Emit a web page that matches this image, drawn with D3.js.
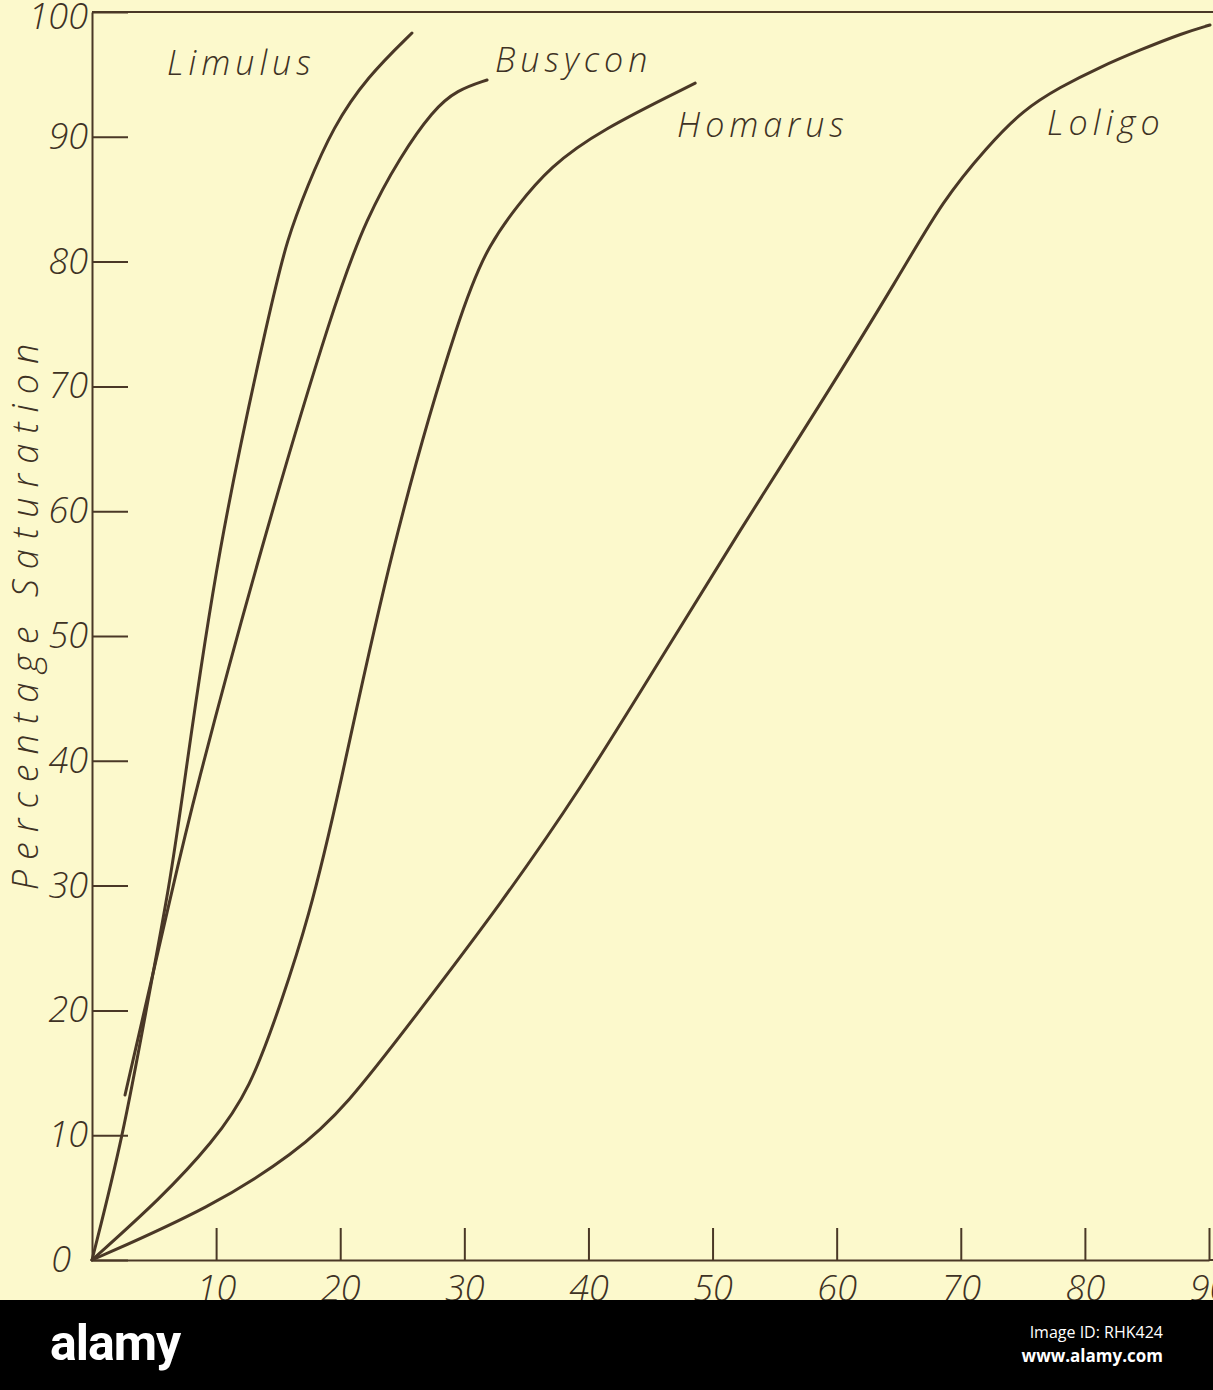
<!DOCTYPE html>
<html lang="en">
<head>
    <meta charset="UTF-8">
    <title>Percentage Saturation</title>
    <style>
        body { margin: 0; background: #fcf9cc; }
        svg { display: block; }
        .tick-label, .curve-label, .axis-title {
            font-family: "Open Sans", "DejaVu Sans", sans-serif;
            font-style: italic;
            font-weight: 300;
            fill: #3e3224;
        }
    </style>
</head>
<body>
    <div id="container"></div>

    <script type="text/javascript" src="https://d3js.org/d3.v7.min.js"></script>
    <script type="text/javascript">
        // Oxygen pressure (x) and percentage saturation (y).
        var limulusX = [0, 2.5, 4.51, 6.28, 7.25, 10.07, 14.5, 15.71, 17.32, 19.42, 22.16, 25.78];
        var limulusY = [0, 9.86, 20.83, 30.21, 36.86, 56.89, 76.92, 81.73, 85.98, 90.79, 94.79, 98.32];

        var busyconX = [2.66, 4.51, 6.28, 8.14, 13.54, 19.58, 22.16, 24.82, 27.48, 29.41, 31.83];
        var busyconY = [13.22, 21.23, 28.85, 36.86, 56.89, 76.92, 83.57, 88.38, 92.15, 93.75, 94.55];

        var homarusX = [0, 5.6, 9.7, 12.73, 15.3, 17.4, 19.8, 24.0, 29.9, 32.1, 34.2, 36.9, 40.9, 48.6];
        var homarusY = [0, 5.0, 9.4, 13.62, 20.8, 27.2, 36.9, 56.9, 76.9, 81.5, 84.4, 87.6, 90.5, 94.3];

        var loligoX = [0, 9.67, 16.36, 20.39, 26.43, 32.87, 39.32, 45.77, 52.21, 58.66, 65.1, 68.57, 72.11, 75.01, 78.0, 81.22, 84.44, 87.91, 90.08];
        var loligoY = [0, 4.25, 8.57, 12.18, 20.03, 28.45, 37.66, 48.08, 58.49, 68.51, 78.93, 84.94, 89.18, 92.15, 93.99, 95.59, 96.96, 98.32, 98.96];

        var seriesNames = ["Limulus", "Busycon", "Homarus", "Loligo"];

        var xTicks = [10, 20, 30, 40, 50, 60, 70, 80, 90];
        var yTicks = [0, 10, 20, 30, 40, 50, 60, 70, 80, 90, 100];

        var width = 1213,
            height = 1390,
            ink = "#4a3826";

        var x = d3.scaleLinear().domain([0, 90]).range([92, 1209]);
        var y = d3.scaleLinear().domain([0, 100]).range([1260, 12]);

        var svgCanvas = d3.select("#container")
            .append("svg")
            .attr("width", width)
            .attr("height", height);

        svgCanvas.append("rect")
            .attr("width", width)
            .attr("height", height)
            .attr("fill", "#fcf9cc");

        // Pair up the x and y arrays for each curve.
        function zipSeries(xs, ys) {
            return xs.map(function(v, i) { return [v, ys[i]]; });
        }

        var series = [
            zipSeries(limulusX, limulusY),
            zipSeries(busyconX, busyconY),
            zipSeries(homarusX, homarusY),
            zipSeries(loligoX, loligoY)
        ];

        // Y axis: ticks point into the plot, numbers sit on the left.
        var yAxis = svgCanvas.append("g")
            .attr("transform", "translate(" + x(0) + ",0)")
            .call(d3.axisLeft(y).tickValues(yTicks).tickSize(-36).tickSizeOuter(0).tickPadding(4)
                .tickFormat(d3.format("d")));

        // X axis: ticks point up, numbers below.
        var xAxis = svgCanvas.append("g")
            .attr("transform", "translate(0," + y(0) + ")")
            .call(d3.axisBottom(x).tickValues(xTicks).tickSize(-32).tickSizeOuter(0).tickPadding(15)
                .tickFormat(d3.format("d")));

        [yAxis, xAxis].forEach(function(g) {
            g.selectAll("path, line")
                .attr("stroke", ink)
                .attr("stroke-width", 2);
            g.selectAll("text")
                .attr("class", "tick-label")
                .attr("font-size", 36)
                .attr("fill", null);
        });

        // The zero label sits a little further left, by the corner; 100 is nudged down to stay on the page.
        yAxis.selectAll(".tick text")
            .attr("dx", function(d) { return d === 0 ? -17 : 0; })
            .attr("dy", function(d) { return d === 100 ? "0.45em" : "0.32em"; });

        // Top border of the frame, running out to the edge.
        svgCanvas.append("line")
            .attr("x1", x(0))
            .attr("x2", width)
            .attr("y1", y(100))
            .attr("y2", y(100))
            .attr("stroke", ink)
            .attr("stroke-width", 2);

        svgCanvas.append("line")
            .attr("x1", x(90))
            .attr("x2", width)
            .attr("y1", y(0))
            .attr("y2", y(0))
            .attr("stroke", ink)
            .attr("stroke-width", 2);

        // B-spline through the read points keeps the hand-drawn curves smooth.
        var line = d3.line()
            .x(function(d) { return x(d[0]); })
            .y(function(d) { return y(d[1]); })
            .curve(d3.curveBasis);

        svgCanvas.append("g")
            .selectAll("path")
            .data(series)
            .enter()
            .append("path")
            .attr("d", line)
            .attr("fill", "none")
            .attr("stroke", ink)
            .attr("stroke-width", 3)
            .attr("stroke-linecap", "round");

        // Curve names, placed near the upper end of each curve.
        var labelPos = [[167, 75], [495, 72], [677, 137], [1047, 135]];
        svgCanvas.append("g")
            .selectAll("text")
            .data(seriesNames)
            .enter()
            .append("text")
            .attr("class", "curve-label")
            .attr("x", function(d, i) { return labelPos[i][0]; })
            .attr("y", function(d, i) { return labelPos[i][1]; })
            .attr("font-size", 34)
            .attr("letter-spacing", 5)
            .text(function(d) { return d; });

        svgCanvas.append("text")
            .attr("class", "axis-title")
            .attr("transform", "translate(38,612) rotate(-90)")
            .attr("text-anchor", "middle")
            .attr("font-size", 36)
            .attr("letter-spacing", 10)
            .text("Percentage Saturation");

        // Stock photo footer strip.
        var footer = svgCanvas.append("g");
        footer.append("rect")
            .attr("y", 1300)
            .attr("width", width)
            .attr("height", 90)
            .attr("fill", "#000");
        footer.append("text")
            .attr("x", 50)
            .attr("y", 1360)
            .attr("font-family", "'Liberation Sans Narrow', 'Roboto', sans-serif")
            .attr("font-weight", "bold")
            .attr("font-size", 50)
            .attr("letter-spacing", -1)
            .attr("fill", "#fff")
            .text("alamy");
        footer.append("text")
            .attr("x", 1163)
            .attr("y", 1338)
            .attr("text-anchor", "end")
            .attr("font-family", "'Open Sans', sans-serif")
            .attr("font-size", 16)
            .attr("fill", "#fff")
            .text("Image ID: RHK424");
        footer.append("text")
            .attr("x", 1163)
            .attr("y", 1362)
            .attr("text-anchor", "end")
            .attr("font-family", "'Open Sans', sans-serif")
            .attr("font-weight", "bold")
            .attr("font-size", 17)
            .attr("fill", "#fff")
            .text("www.alamy.com");
    </script>
</body>
</html>
